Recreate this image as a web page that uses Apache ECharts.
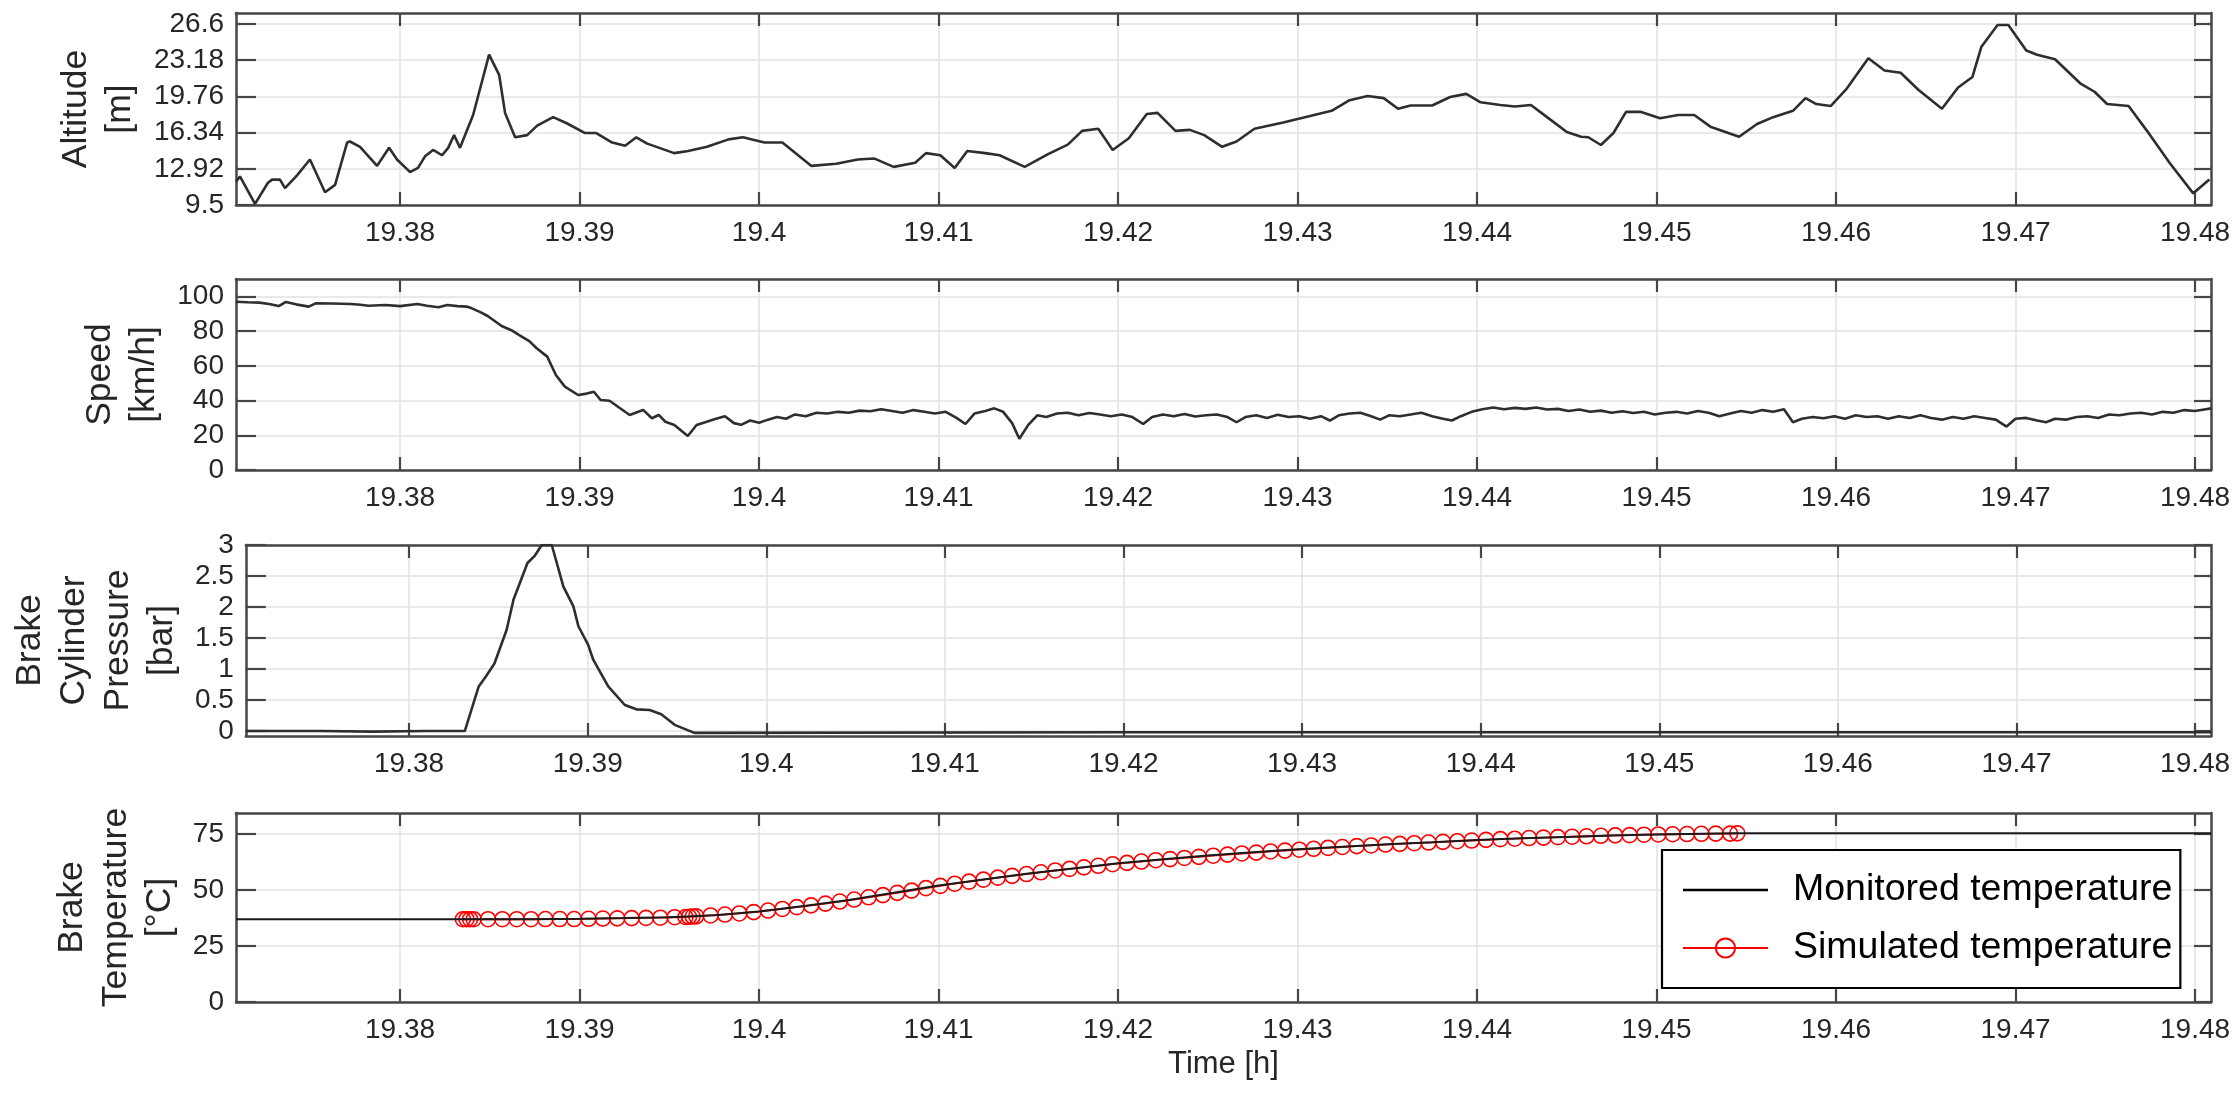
<!DOCTYPE html>
<html>
<head>
<meta charset="utf-8">
<script src="https://cdn.jsdelivr.net/npm/echarts@6/dist/echarts.min.js"></script>
<style>
html,body{margin:0;padding:0;background:#fff;}
#chart{width:2239px;height:1105px;}
</style>
</head>
<body>
<div id="chart"></div>
<script>
// ---------- axis ranges & tick labels ----------
const timeMin = 19.37086;
const timeMax = 19.48089;
const timeTicks = [19.38, 19.39, 19.40, 19.41, 19.42, 19.43, 19.44, 19.45, 19.46, 19.47, 19.48];
const altitudeTicks = [9.5, 12.92, 16.34, 19.76, 23.18, 26.6];
const speedTicks = [0, 20, 40, 60, 80, 100];
const pressureTicks = [0, 0.5, 1, 1.5, 2, 2.5, 3];
const temperatureTicks = [0, 25, 50, 75];

// ---------- data: [time (h), value] ----------
const altitudeData = [
[19.37086,11.7],[19.37108,12.2],[19.37192,9.6],[19.37264,11.6],[19.37287,11.9],[19.37331,11.9],[19.37359,11.1],
[19.37426,12.3],[19.37498,13.8],[19.37582,10.7],[19.37638,11.4],[19.37705,15.4],[19.37721,15.5],[19.37777,15.0],
[19.37872,13.2],[19.37939,14.9],[19.37983,13.8],[19.38056,12.6],[19.38100,13.0],[19.38139,14.1],[19.38184,14.7],
[19.38234,14.2],[19.38268,14.9],[19.38301,16.1],[19.38334,14.9],[19.38407,18.0],[19.38496,23.7],[19.38552,21.8],
[19.38585,18.2],[19.38641,15.9],[19.38708,16.1],[19.38764,17.0],[19.38853,17.8],[19.38931,17.2],[19.39031,16.3],
[19.39093,16.3],[19.39182,15.4],[19.39254,15.1],[19.39316,15.9],[19.39377,15.3],[19.39527,14.4],[19.39605,14.6],
[19.3971,15.0],[19.3983,15.7],[19.3991,15.9],[19.4003,15.4],[19.4013,15.4],[19.4029,13.2],[19.4043,13.4],
[19.4055,13.8],[19.4064,13.9],[19.4075,13.1],[19.4087,13.5],[19.4093,14.4],[19.4101,14.2],[19.4109,13.0],
[19.4116,14.6],[19.4126,14.4],[19.4134,14.2],[19.4148,13.1],[19.4161,14.3],[19.4172,15.2],[19.4180,16.5],
[19.4189,16.7],[19.4197,14.7],[19.4206,15.8],[19.4216,18.1],[19.4222,18.2],[19.4232,16.5],[19.4240,16.6],
[19.4248,16.1],[19.4258,15.0],[19.4266,15.5],[19.4276,16.7],[19.4292,17.3],[19.4307,17.9],[19.4319,18.4],
[19.4329,19.4],[19.4339,19.8],[19.4348,19.6],[19.4356,18.6],[19.4363,18.9],[19.4375,18.9],[19.4385,19.7],
[19.4394,20.0],[19.4402,19.2],[19.4413,18.95],[19.4421,18.8],[19.4430,18.95],[19.4439,17.8],[19.4450,16.4],
[19.4458,15.95],[19.4462,15.9],[19.4469,15.17],[19.4476,16.3],[19.4483,18.3],[19.4491,18.3],[19.4502,17.7],
[19.4512,18.0],[19.4521,18.0],[19.4530,16.9],[19.4546,15.95],[19.4556,17.15],[19.4565,17.8],[19.4576,18.4],
[19.4583,19.6],[19.4589,19.04],[19.4597,18.85],[19.4606,20.5],[19.4618,23.36],[19.4627,22.2],[19.4636,22.0],
[19.4646,20.36],[19.4659,18.6],[19.4668,20.6],[19.4676,21.6],[19.4681,24.46],[19.4690,26.5],[19.4696,26.5],
[19.4706,24.1],[19.4712,23.7],[19.4722,23.27],[19.4736,21.0],[19.4744,20.2],[19.4751,19.04],[19.4763,18.85],
[19.4775,16.1],[19.4786,13.44],[19.4799,10.6],[19.4808,11.9]
];

const speedData = [
[19.37086,96.9],[19.3715,96.6],[19.37217,96.4],[19.3727,95.6],[19.37324,94.4],[19.37364,96.8],[19.3742,95.4],
[19.37491,94.1],[19.3753,96.0],[19.3762,95.9],[19.37726,95.6],[19.3778,95.2],[19.37823,94.6],[19.3792,95.0],
[19.38,94.4],[19.38097,95.6],[19.3815,94.6],[19.38214,93.7],[19.38263,95.0],[19.3832,94.4],[19.38371,94.1],
[19.384,93.1],[19.3845,90.8],[19.38488,88.7],[19.38566,82.9],[19.3862,80.5],[19.38664,77.7],[19.3872,74.2],
[19.38761,70.1],[19.3882,65.3],[19.38868,54.7],[19.38918,48.0],[19.38992,43.2],[19.3904,44.0],[19.3908,45.1],
[19.39117,40.3],[19.39167,39.9],[19.3922,36.0],[19.39279,31.7],[19.39354,34.6],[19.39403,29.8],[19.39441,31.7],
[19.39478,27.8],[19.39528,25.9],[19.39603,19.6],[19.39652,25.9],
[19.3970,27.5],[19.3976,29.5],[19.3981,31.0],[19.3986,27.0],[19.3990,26.0],[19.3995,28.5],[19.4000,27.2],
[19.4005,29.0],[19.4010,30.5],[19.4015,29.5],[19.4020,32.0],[19.4026,31.0],[19.4032,33.0],[19.4038,32.5],
[19.4044,33.5],[19.4050,33.0],[19.4056,34.2],[19.4062,33.8],[19.4068,35.0],[19.4074,34.0],[19.4080,33.0],
[19.4086,34.5],[19.4092,33.5],[19.4098,32.5],[19.4104,33.5],[19.4110,30.0],[19.4115,26.5],[19.4120,32.5],
[19.4126,34.0],[19.4131,35.5],[19.4136,33.5],[19.4141,27.0],[19.4145,18.0],[19.4150,26.0],[19.4155,31.5],
[19.4160,30.5],[19.4166,32.5],[19.4172,33.0],[19.4178,31.5],[19.4184,32.8],[19.4190,32.0],[19.4196,31.0],
[19.4202,32.0],[19.4208,30.5],[19.4214,26.5],[19.4219,30.5],[19.4225,32.0],[19.4231,31.0],[19.4237,32.2],
[19.4243,30.8],[19.4249,31.5],[19.4255,32.0],[19.4261,30.5],[19.4266,27.5],[19.4271,30.5],[19.4277,31.5],
[19.4283,30.0],[19.4289,31.8],[19.4295,30.5],[19.4301,31.0],[19.4307,29.5],[19.4313,31.0],[19.4318,28.5],
[19.4323,31.5],[19.4329,32.5],[19.4335,33.0],[19.4341,31.0],[19.4346,29.0],[19.4351,31.5],[19.4357,31.0],
[19.4363,32.0],[19.4369,33.0],[19.4375,31.0],[19.4381,29.5],[19.4386,28.5],[19.4391,31.0],[19.4397,33.5],
[19.4403,35.0],[19.4409,36.0],[19.4415,35.0],[19.4421,35.8],[19.4427,35.2],[19.4433,36.0],[19.4439,34.8],
[19.4445,35.2],[19.4451,34.0],[19.4457,34.8],[19.4463,33.5],[19.4469,34.2],[19.4475,33.0],[19.4481,33.8],
[19.4487,32.8],[19.4493,33.5],[19.4499,32.0],[19.4505,33.0],[19.4511,33.5],[19.4517,32.5],[19.4523,34.0],
[19.4529,33.0],[19.4535,31.0],[19.4541,32.5],[19.4547,34.0],[19.4553,33.0],[19.4559,34.5],[19.4565,33.5],
[19.4571,35.0],[19.4576,27.5],[19.4581,29.5],[19.4587,30.5],[19.4593,29.8],[19.4599,31.0],[19.4605,29.5],
[19.4611,31.5],[19.4617,30.5],[19.4623,31.0],[19.4629,29.5],[19.4635,31.0],[19.4641,30.0],[19.4647,31.5],
[19.4653,30.0],[19.4659,29.0],[19.4665,30.5],[19.4671,29.5],[19.4677,31.0],[19.4683,30.0],[19.4689,29.0],
[19.4695,25.0],[19.4700,29.5],[19.4706,30.0],[19.4712,28.5],[19.4717,27.5],[19.4722,29.5],[19.4728,29.0],
[19.4734,30.5],[19.4740,31.0],[19.4746,30.0],[19.4752,32.0],[19.4758,31.5],[19.4764,32.5],[19.4770,33.0],
[19.4776,32.0],[19.4782,33.5],[19.4788,33.0],[19.4794,34.5],[19.4800,34.0],[19.4806,35.0],[19.4809,35.5]
];

const pressureData = [
[19.37086,0.0],[19.3750,0.0],[19.3780,-0.01],[19.3810,0.0],[19.38312,0.0],[19.3839,0.72],[19.3843,0.88],
[19.38478,1.09],[19.38546,1.63],[19.38585,2.12],[19.38663,2.71],[19.38702,2.82],[19.38743,3.0],[19.38799,3.0],
[19.38864,2.33],[19.38920,2.01],[19.38948,1.69],[19.39003,1.39],[19.39031,1.15],[19.39115,0.72],[19.39208,0.42],
[19.39273,0.35],[19.39347,0.34],[19.39412,0.27],[19.39487,0.10],[19.39598,-0.03],[19.4200,-0.02],[19.4500,-0.02],
[19.4809,-0.02]
];

const monitoredTempData = [
[19.37086,37.0],[19.3835,37.0],[19.3875,37.0],[19.39,37.2],[19.3925,37.5],[19.395,37.9],[19.3975,38.8],
[19.40,40.5],[19.4025,42.9],[19.405,45.6],[19.4075,48.8],[19.41,52.1],[19.4125,54.8],[19.415,57.4],
[19.4175,59.7],[19.42,62.0],[19.4225,63.8],[19.425,65.5],[19.4275,67.0],[19.43,68.3],[19.4325,69.4],
[19.435,70.5],[19.4375,71.4],[19.44,72.4],[19.4425,73.2],[19.445,73.8],[19.4475,74.4],[19.45,74.9],
[19.4525,75.2],[19.4545,75.4],[19.48089,75.4]
];

const simulatedTempData = [
[19.3835,37.0],[19.3837,37.0],[19.3839,37.0],[19.3841,37.0],[19.3849,37.0],[19.3857,37.0],[19.3865,37.0],
[19.3873,37.0],[19.3881,37.1],[19.3889,37.1],[19.3897,37.1],[19.3905,37.2],[19.3913,37.3],[19.3921,37.4],
[19.3929,37.5],[19.3937,37.6],[19.3945,37.7],[19.3953,37.9],[19.3959,38.0],[19.3961,38.1],[19.3963,38.2],
[19.3965,38.3],[19.3973,38.7],[19.3981,39.1],[19.3989,39.6],[19.3997,40.2],[19.4005,40.9],[19.4013,41.6],
[19.4021,42.4],[19.4029,43.2],[19.4037,44.0],[19.4045,44.9],[19.4053,45.8],[19.4061,46.8],[19.4069,47.8],
[19.4077,48.8],[19.4085,49.8],[19.4093,50.9],[19.4101,51.9],[19.4109,52.9],[19.4117,53.8],[19.4125,54.7],
[19.4133,55.6],[19.4141,56.4],[19.4149,57.2],[19.4157,58.0],[19.4165,58.8],[19.4173,59.5],[19.4181,60.2],
[19.4189,60.9],[19.4197,61.6],[19.4205,62.2],[19.4213,62.8],[19.4221,63.4],[19.4229,63.9],[19.4237,64.4],
[19.4245,64.9],[19.4253,65.4],[19.4261,65.9],[19.4269,66.4],[19.4277,66.8],[19.4285,67.3],[19.4293,67.7],
[19.4301,68.1],[19.4309,68.5],[19.4317,68.9],[19.4325,69.3],[19.4333,69.7],[19.4341,70.0],[19.4349,70.4],
[19.4357,70.7],[19.4365,71.0],[19.4373,71.3],[19.4381,71.6],[19.4389,71.9],[19.4397,72.2],[19.4405,72.5],
[19.4413,72.8],[19.4421,73.0],[19.4429,73.3],[19.4437,73.5],[19.4445,73.7],[19.4453,73.9],[19.4461,74.1],
[19.4469,74.3],[19.4477,74.5],[19.4485,74.6],[19.4493,74.8],[19.4501,74.9],[19.4509,75.0],[19.4517,75.1],
[19.4525,75.2],[19.4533,75.3],[19.4541,75.3],[19.4545,75.4]
];

// ---------- styling ----------
const FONT = '"Liberation Sans", Arial, Helvetica, sans-serif';
const AXIS_COLOR = '#464646';
const TEXT_COLOR = '#262626';
const GRID_COLOR = '#e2e2e2';
const LINE_COLOR = '#2e2e2e';

const grids = [
  {left: 236, right: 28, top: 13, height: 192},
  {left: 236, right: 28, top: 279, height: 191},
  {left: 236, right: 28, top: 545, height: 191},
  {left: 236, right: 28, top: 813, height: 189}
];

const fmt = v => String(+(+v).toFixed(2));

const xAxes = [];
const yAxes = [];
const yDefs = [
  {min: 9.5, max: 27.64, ticks: altitudeTicks, name: 'Altitude\n[m]', gap: 94},
  {min: 0, max: 110, ticks: speedTicks, name: 'Speed\n[km/h]', gap: 67},
  {min: -0.08, max: 3, ticks: pressureTicks, name: 'Brake\nCylinder\nPressure\n[bar]', gap: 58},
  {min: 0, max: 84.5, ticks: temperatureTicks, name: 'Brake\nTemperature\n[°C]', gap: 53}
];

for (let i = 0; i < 4; i++) {
  const axLine = {show: true, onZero: false, lineStyle: {color: AXIS_COLOR, width: 2.5}};
  const tickLine = {color: AXIS_COLOR, width: 2.2};
  xAxes.push({
    type: 'value', gridIndex: i, position: 'bottom', min: timeMin, max: timeMax,
    axisLine: axLine,
    axisTick: {show: true, inside: true, length: 13, customValues: timeTicks, lineStyle: tickLine},
    axisLabel: {show: true, customValues: timeTicks, formatter: fmt, fontSize: 28, color: TEXT_COLOR, fontFamily: FONT, margin: 14},
    splitLine: {show: true, lineStyle: {color: GRID_COLOR, width: 1.5}},
    name: i === 3 ? 'Time [h]' : '', nameLocation: 'middle', nameGap: 47,
    nameTextStyle: {fontSize: 31, color: TEXT_COLOR, fontFamily: FONT}
  });
  xAxes.push({
    type: 'value', gridIndex: i, position: 'top', min: timeMin, max: timeMax,
    axisLine: axLine,
    axisTick: {show: true, inside: true, length: 13, customValues: timeTicks, lineStyle: tickLine},
    axisLabel: {show: false},
    splitLine: {show: false}
  });
  const d = yDefs[i];
  yAxes.push({
    type: 'value', gridIndex: i, position: 'left', min: d.min, max: d.max,
    axisLine: axLine,
    axisTick: {show: true, inside: true, length: 20, customValues: d.ticks, lineStyle: tickLine},
    axisLabel: {show: true, customValues: d.ticks, formatter: fmt, fontSize: 28, color: TEXT_COLOR, fontFamily: FONT, margin: 12},
    splitLine: {show: true, lineStyle: {color: GRID_COLOR, width: 1.5}},
    name: d.name, nameLocation: 'middle', nameRotate: 90, nameGap: d.gap,
    nameTextStyle: {fontSize: 35.5, lineHeight: 44, color: TEXT_COLOR, fontFamily: FONT, align: 'center'}
  });
  yAxes.push({
    type: 'value', gridIndex: i, position: 'right', min: d.min, max: d.max,
    axisLine: axLine,
    axisTick: {show: true, inside: true, length: 17, customValues: d.ticks, lineStyle: tickLine},
    axisLabel: {show: false},
    splitLine: {show: false}
  });
}

const lineBase = {type: 'line', showSymbol: false, symbol: 'none', animation: false, lineStyle: {color: LINE_COLOR, width: 2.6}, itemStyle: {color: LINE_COLOR}};

const option = {
  backgroundColor: '#ffffff',
  animation: false,
  grid: grids,
  xAxis: xAxes,
  yAxis: yAxes,
  legend: {
    orient: 'vertical', left: 1662, top: 850,
    data: [
      {name: 'Monitored temperature', icon: 'path://M0,0H85V2.6H0Z', itemStyle: {color: '#000000'}},
      'Simulated temperature'
    ],
    symbolKeepAspect: true,
    backgroundColor: '#ffffff', borderColor: '#000000', borderWidth: 2.2,
    padding: [21, 8, 21, 20], itemGap: 20, itemWidth: 85, itemHeight: 24,
    textStyle: {fontSize: 37.5, color: '#000000', fontFamily: FONT, padding: [0, 0, 0, 20]},
    selectedMode: false
  },
  series: [
    Object.assign({}, lineBase, {name: 'Altitude', xAxisIndex: 0, yAxisIndex: 0, data: altitudeData}),
    Object.assign({}, lineBase, {name: 'Speed', xAxisIndex: 2, yAxisIndex: 2, data: speedData}),
    Object.assign({}, lineBase, {name: 'Pressure', xAxisIndex: 4, yAxisIndex: 4, data: pressureData}),
    {
      name: 'Simulated temperature', type: 'line', xAxisIndex: 6, yAxisIndex: 6, data: simulatedTempData,
      symbol: 'circle', symbolSize: 15, showSymbol: true, showAllSymbol: true,
      lineStyle: {color: '#ff0000', width: 1.8},
      itemStyle: {color: 'rgba(255,255,255,0)', borderColor: '#ff0000', borderWidth: 1.6},
      z: 2
    },
    Object.assign({}, lineBase, {name: 'Monitored temperature', xAxisIndex: 6, yAxisIndex: 6, data: monitoredTempData,
      lineStyle: {color: '#1a1a1a', width: 2}, itemStyle: {color: '#1a1a1a'}, z: 3})
  ]
};

const chart = echarts.init(document.getElementById('chart'), null, {renderer: 'canvas'});
chart.setOption(option);
</script>
</body>
</html>
